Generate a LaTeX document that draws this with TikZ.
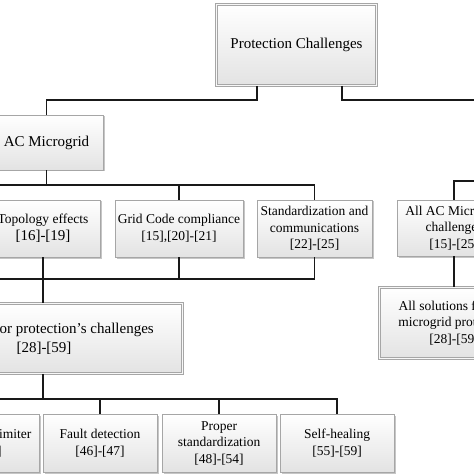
\documentclass[tikz,border=0pt]{standalone}
\usepackage{fontspec}
\setmainfont{Liberation Serif}
\usetikzlibrary{shadows}
\begin{document}
\begin{tikzpicture}[x=1bp,y=-1bp,
  box/.style={draw=gray!70, line width=0.8bp, top color=white, bottom color=gray!22,
    drop shadow={fill=gray!45, opacity=1, shadow xshift=1.5bp, shadow yshift=-1.5bp},
    align=center, inner sep=2bp, font=\fontsize{13.5bp}{16.5bp}\selectfont},
  dbox/.style={box, double=gray!6, double distance=1.8bp},
  conn/.style={draw=black!90, line width=1.6bp}]
\useasboundingbox (0,0) rectangle (474,474);
\clip (0,0) rectangle (474,474);
% nodes
\node[dbox, minimum width=160bp, minimum height=81bp, font=\fontsize{15bp}{18bp}\selectfont] (top) at (296.5,45) {Protection Challenges};
\node[box, minimum width=113bp, minimum height=55bp, font=\fontsize{15bp}{18bp}\selectfont] (ac) at (46.5,142.5) {AC Microgrid};
\node[box, minimum width=114bp, minimum height=57bp] (topo) at (43,228.5) {Topology effects\\\fontsize{15bp}{18bp}\selectfont[16]-[19]};
\node[box, minimum width=128bp, minimum height=57bp] (grid) at (179,228.5) {Grid Code compliance\\{}[15],[20]-[21]};
\node[box, minimum width=115bp, minimum height=57bp] (std) at (314.5,228.5) {Standardization and\\communications\\{}[22]-[25]};
\node[box, minimum width=114bp, minimum height=56bp] (allac) at (454,228) {All AC Microgrid\\challenges\\{}[15]-[25]};
\node[dbox, minimum width=277bp, minimum height=70bp, font=\fontsize{15bp}{19bp}\selectfont] (solL) at (44,338.5) {Solutions for protection’s challenges\\{}[28]-[59]};
\node[dbox, minimum width=149bp, minimum height=71bp] (solR) at (454,323) {All solutions for AC\\microgrid protection\\{}[28]-[59]};
\node[box, minimum width=124bp, minimum height=58bp] (lim) at (-23,443) {Fault current limiter\\{}[26]-[45]};
\node[box, minimum width=114bp, minimum height=58bp] (fault) at (100,443) {Fault detection\\{}[46]-[47]};
\node[box, minimum width=114bp, minimum height=58bp] (proper) at (219,443) {Proper\\standardization\\{}[48]-[54]};
\node[box, minimum width=114bp, minimum height=58bp] (self) at (337,443) {Self-healing\\{}[55]-[59]};
% helper coordinates
\coordinate (t1) at (257,0);
\coordinate (t2) at (342,0);
\coordinate (h1) at (0,100);
\coordinate (rt) at (500,0);
\coordinate (lf) at (-30,0);
\coordinate (h2) at (0,185);
\coordinate (h3) at (0,279);
\coordinate (h4) at (0,399);
\coordinate (h5) at (0,181);
% connectors
\draw[conn] (t1 |- top.south) -- (t1 |- h1) -- (ac.north |- h1) -- (ac.north);
\draw[conn] (t2 |- top.south) -- (t2 |- h1) -- (rt |- h1);
\draw[conn] (allac.north) -- (allac.north |- h5) -- (rt |- h5);
\draw[conn] (allac.south) -- (solR.north);
\draw[conn] (ac.south) -- (ac.south |- h2);
\draw[conn] (lf |- h2) -- (std.north |- h2) -- (std.north);
\draw[conn] (grid.north |- h2) -- (grid.north);
\draw[conn] (topo.south) -- (topo.south |- solL.north);
\draw[conn] (lf |- h3) -- (std.south |- h3) -- (std.south);
\draw[conn] (grid.south) -- (grid.south |- h3);
\draw[conn] (solL.south -| topo.south) -- (topo.south |- h4);
\draw[conn] (lf |- h4) -- (self.north |- h4) -- (self.north);
\draw[conn] (fault.north |- h4) -- (fault.north);
\draw[conn] (proper.north |- h4) -- (proper.north);
\end{tikzpicture}
\end{document}
